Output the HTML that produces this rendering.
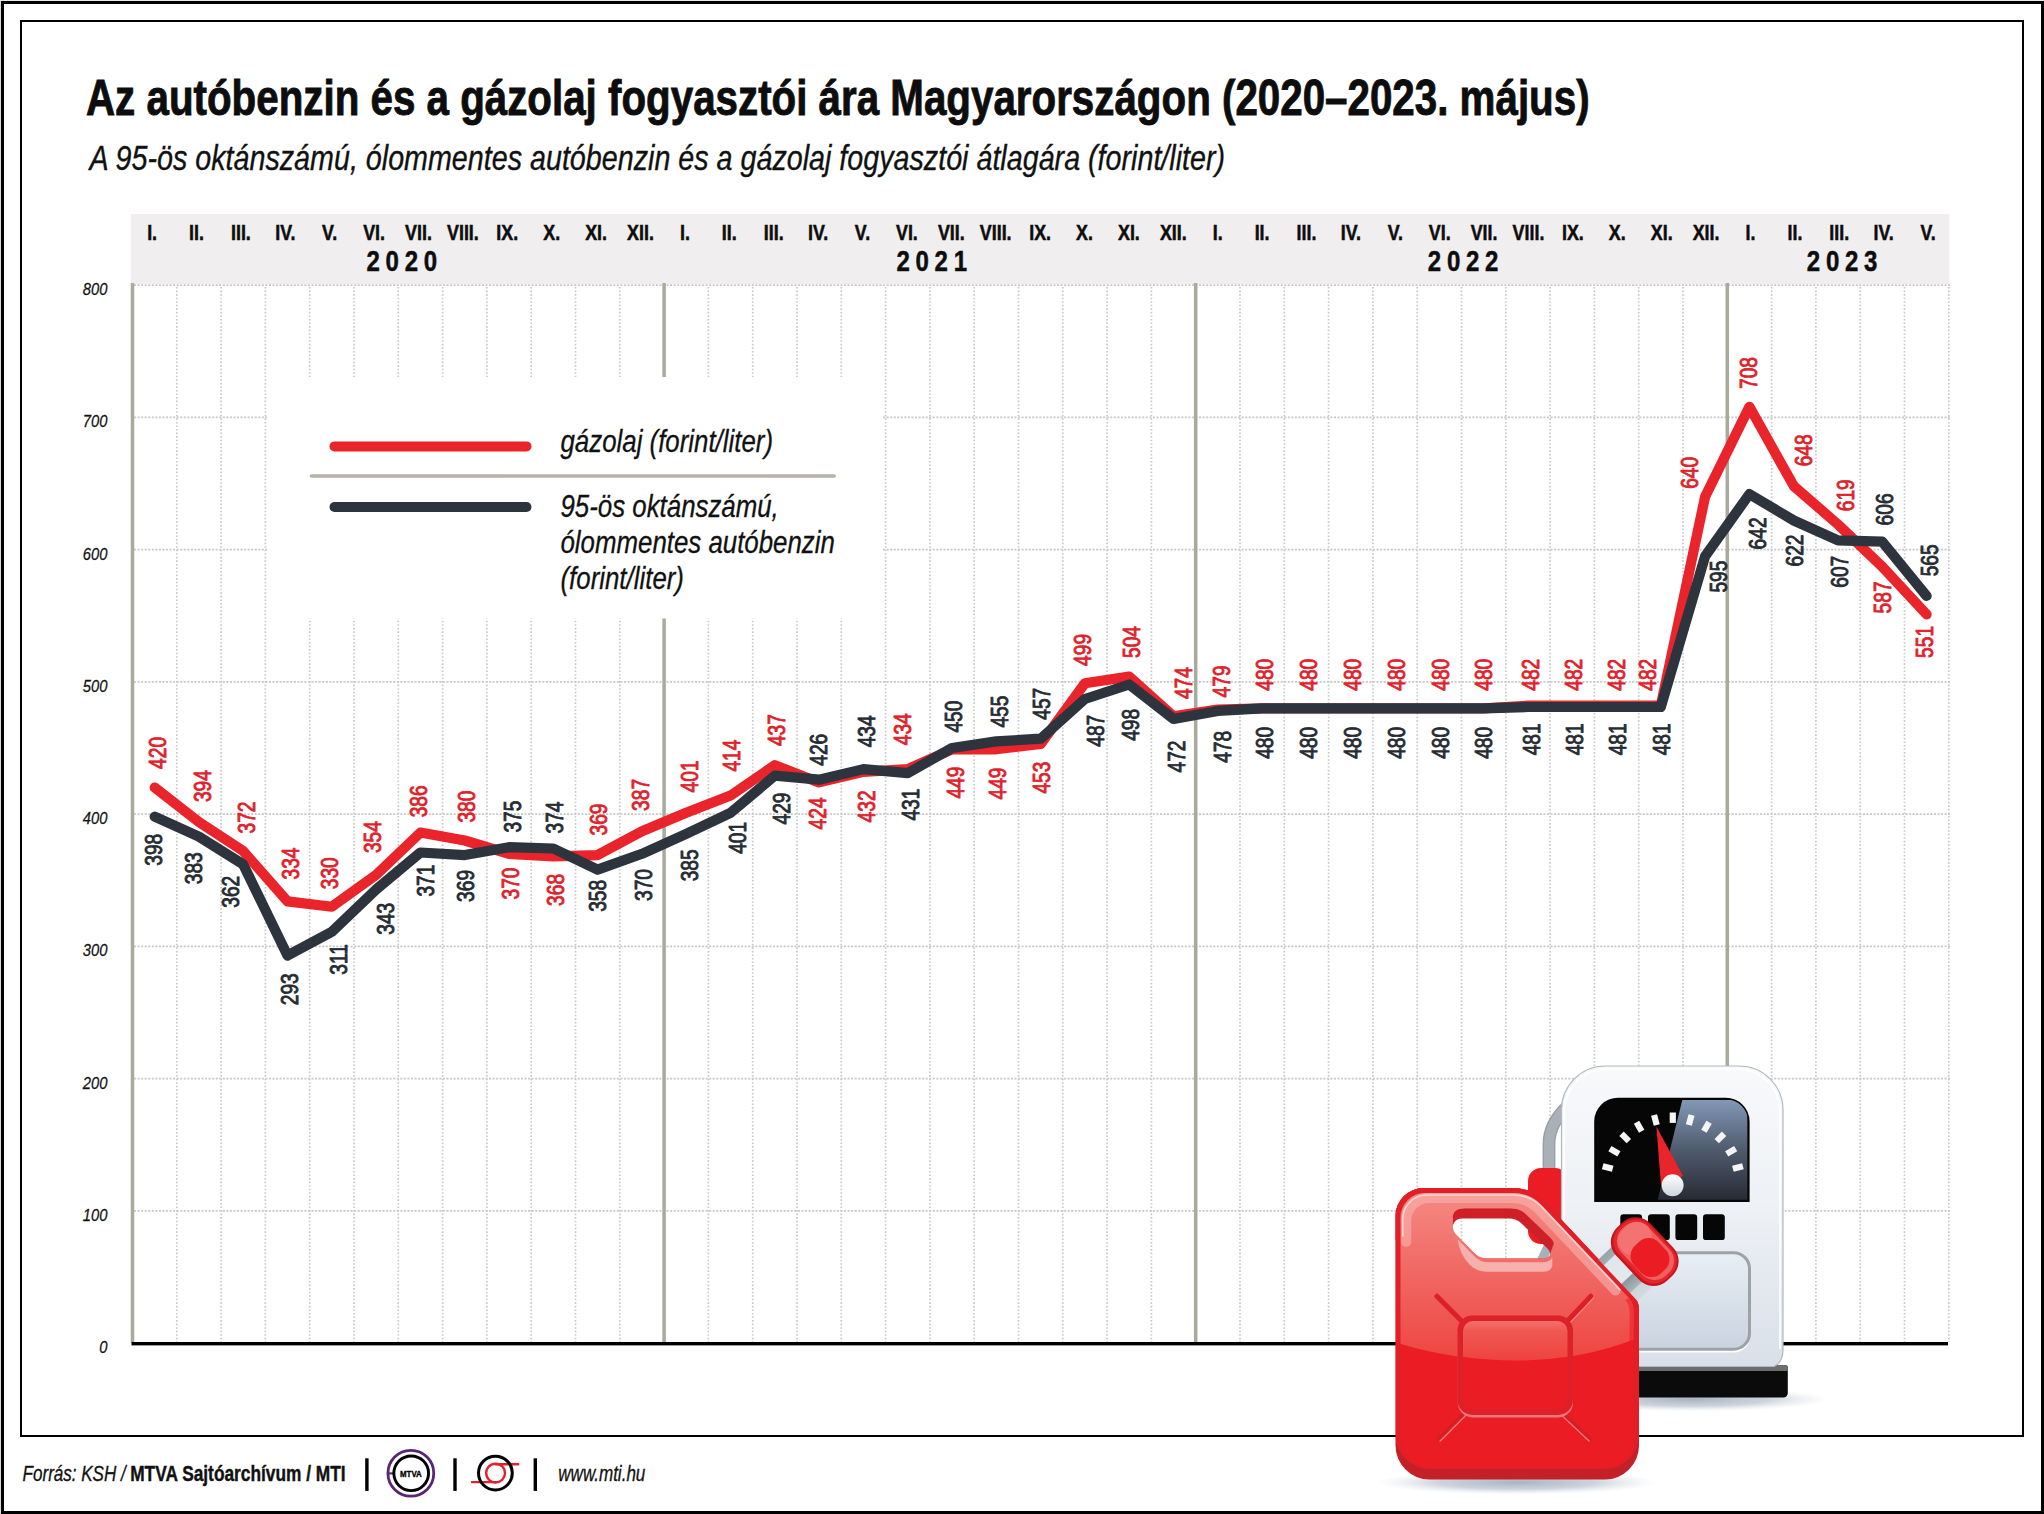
<!DOCTYPE html>
<html lang="hu"><head><meta charset="utf-8"><title>Az autóbenzin és a gázolaj fogyasztói ára Magyarországon</title>
<style>
html,body{margin:0;padding:0;background:#fff;}
body{width:2044px;height:1514px;overflow:hidden;}
svg{display:block;font-family:"Liberation Sans",sans-serif;}
</style></head><body>
<svg width="2044" height="1514" viewBox="0 0 2044 1514">
<defs>
<linearGradient id="gBody" x1="0" y1="0" x2="0" y2="1"><stop offset="0" stop-color="#f8f9fb"/><stop offset="0.45" stop-color="#eef1f5"/><stop offset="1" stop-color="#d9e0e9"/></linearGradient>
<linearGradient id="gScr" x1="0" y1="0" x2="0" y2="1"><stop offset="0" stop-color="#8298b6"/><stop offset="0.5" stop-color="#4f5b6d"/><stop offset="1" stop-color="#272b34"/></linearGradient>
<linearGradient id="gPanel" x1="0" y1="0" x2="0" y2="1"><stop offset="0" stop-color="#e8eef5"/><stop offset="1" stop-color="#c9d3df"/></linearGradient>
<linearGradient id="gKnob" x1="0" y1="0" x2="0" y2="1"><stop offset="0" stop-color="#ffffff"/><stop offset="1" stop-color="#cfd6df"/></linearGradient>
<linearGradient id="gHose" x1="0" y1="0" x2="0" y2="1"><stop offset="0" stop-color="#b4b9c0"/><stop offset="1" stop-color="#8f959d"/></linearGradient>
<radialGradient id="gSh1" cx="0.5" cy="0.5" r="0.5"><stop offset="0" stop-color="#a9b4c1"/><stop offset="0.55" stop-color="#c3cbd5" stop-opacity="0.85"/><stop offset="1" stop-color="#dfe4ea" stop-opacity="0"/></radialGradient>
<linearGradient id="gFace" gradientUnits="userSpaceOnUse" x1="0" y1="1192" x2="0" y2="1365"><stop offset="0" stop-color="#f58a85"/><stop offset="0.35" stop-color="#f1706b"/><stop offset="1" stop-color="#ee4340"/></linearGradient>
<linearGradient id="gSq" gradientUnits="userSpaceOnUse" x1="0" y1="1320" x2="0" y2="1365"><stop offset="0" stop-color="#f4726e"/><stop offset="0.25" stop-color="#f05753"/><stop offset="1" stop-color="#ee403d"/></linearGradient>
<linearGradient id="gTube" gradientUnits="userSpaceOnUse" x1="-28.5" y1="0" x2="28.5" y2="0"><stop offset="0" stop-color="#98a2a9"/><stop offset="0.13" stop-color="#a2acb3"/><stop offset="0.15" stop-color="#dfe6eb"/><stop offset="0.58" stop-color="#e3e9ee"/><stop offset="0.6" stop-color="#8a959c"/><stop offset="0.8" stop-color="#a9b3ba"/><stop offset="0.82" stop-color="#ccd5dc"/><stop offset="1" stop-color="#d3dbe1"/></linearGradient>
<clipPath id="cScr"><path d="M1595 1201.2V1121.5a23 23 0 0 1 23 -23H1725.8a23 23 0 0 1 23 23V1201.2Z"/></clipPath>
<mask id="mHole" maskUnits="userSpaceOnUse" x="1370" y="1170" width="300" height="330"><rect x="1370" y="1170" width="300" height="330" fill="#fff"/><path d="M1462 1218.6H1509Q1516.5 1218.6 1521.5 1223.5L1546.5 1247.5Q1552.5 1253.5 1548.5 1256.8Q1546.8 1258.3 1543 1258.3H1486Q1479.5 1258.3 1474.8 1253.6L1455.5 1234Q1450.8 1228 1454.2 1222.5Q1456.8 1218.6 1462 1218.6Z" fill="#000"/></mask>
<clipPath id="cFace"><path d="M1400.5 1217.5A24.5 24.5 0 0 1 1425 1193H1513Q1529.8 1193 1540.8 1204.6L1628.7 1297.7Q1633.5 1302.8 1633.5 1310V1437A31 31 0 0 1 1602.5 1468H1431.5A31 31 0 0 1 1400.5 1437Z"/></clipPath>
<clipPath id="cBody"><path d="M1395.5 1216A28 28 0 0 1 1423.5 1188H1513Q1531.5 1188 1544.2 1201.6L1634.2 1296.8Q1639 1301.9 1639 1309V1445.5A34 34 0 0 1 1605 1479.5H1429.5A34 34 0 0 1 1395.5 1445.5Z"/></clipPath>
</defs>
<rect width="2044" height="1514" fill="#fff"/>
<rect x="2.5" y="2.5" width="2040" height="1510" fill="none" stroke="#000" stroke-width="3"/>
<rect x="0" y="0" width="1" height="1514" fill="#d8d8d8"/><rect x="0" y="0" width="2044" height="1" fill="#e8e8e8"/>
<rect x="21" y="21" width="2002" height="1415" fill="none" stroke="#000" stroke-width="2"/>
<text transform="translate(86.00 115.00) scale(0.8068 1)" font-size="50" font-weight="bold" fill="#0d0d0d" stroke="#0d0d0d" stroke-width="0.9">Az autóbenzin és a gázolaj fogyasztói ára Magyarországon (2020–2023. május)</text>
<text transform="translate(89.50 169.60) scale(0.8247 1)" font-size="34.8" font-style="italic" fill="#111" stroke="#111" stroke-width="0.35">A 95-ös oktánszámú, ólommentes autóbenzin és a gázolaj fogyasztói átlagára (forint/liter)</text>
<rect x="131" y="214" width="1818.5" height="70" fill="#f0eeef"/>
<g font-weight="bold" text-anchor="middle" fill="#0d0d0d" stroke="#0d0d0d" stroke-width="0.5">
<text transform="translate(152.10 239.80) scale(0.8400 1)" font-size="21.3">I.</text>
<text transform="translate(196.50 239.80) scale(0.8400 1)" font-size="21.3">II.</text>
<text transform="translate(240.90 239.80) scale(0.8400 1)" font-size="21.3">III.</text>
<text transform="translate(285.30 239.80) scale(0.8400 1)" font-size="21.3">IV.</text>
<text transform="translate(329.70 239.80) scale(0.8400 1)" font-size="21.3">V.</text>
<text transform="translate(374.10 239.80) scale(0.8400 1)" font-size="21.3">VI.</text>
<text transform="translate(418.50 239.80) scale(0.8400 1)" font-size="21.3">VII.</text>
<text transform="translate(462.90 239.80) scale(0.8400 1)" font-size="21.3">VIII.</text>
<text transform="translate(507.30 239.80) scale(0.8400 1)" font-size="21.3">IX.</text>
<text transform="translate(551.70 239.80) scale(0.8400 1)" font-size="21.3">X.</text>
<text transform="translate(596.10 239.80) scale(0.8400 1)" font-size="21.3">XI.</text>
<text transform="translate(640.50 239.80) scale(0.8400 1)" font-size="21.3">XII.</text>
<text transform="translate(684.90 239.80) scale(0.8400 1)" font-size="21.3">I.</text>
<text transform="translate(729.30 239.80) scale(0.8400 1)" font-size="21.3">II.</text>
<text transform="translate(773.70 239.80) scale(0.8400 1)" font-size="21.3">III.</text>
<text transform="translate(818.10 239.80) scale(0.8400 1)" font-size="21.3">IV.</text>
<text transform="translate(862.50 239.80) scale(0.8400 1)" font-size="21.3">V.</text>
<text transform="translate(906.90 239.80) scale(0.8400 1)" font-size="21.3">VI.</text>
<text transform="translate(951.30 239.80) scale(0.8400 1)" font-size="21.3">VII.</text>
<text transform="translate(995.70 239.80) scale(0.8400 1)" font-size="21.3">VIII.</text>
<text transform="translate(1040.10 239.80) scale(0.8400 1)" font-size="21.3">IX.</text>
<text transform="translate(1084.50 239.80) scale(0.8400 1)" font-size="21.3">X.</text>
<text transform="translate(1128.90 239.80) scale(0.8400 1)" font-size="21.3">XI.</text>
<text transform="translate(1173.30 239.80) scale(0.8400 1)" font-size="21.3">XII.</text>
<text transform="translate(1217.70 239.80) scale(0.8400 1)" font-size="21.3">I.</text>
<text transform="translate(1262.10 239.80) scale(0.8400 1)" font-size="21.3">II.</text>
<text transform="translate(1306.50 239.80) scale(0.8400 1)" font-size="21.3">III.</text>
<text transform="translate(1350.90 239.80) scale(0.8400 1)" font-size="21.3">IV.</text>
<text transform="translate(1395.30 239.80) scale(0.8400 1)" font-size="21.3">V.</text>
<text transform="translate(1439.70 239.80) scale(0.8400 1)" font-size="21.3">VI.</text>
<text transform="translate(1484.10 239.80) scale(0.8400 1)" font-size="21.3">VII.</text>
<text transform="translate(1528.50 239.80) scale(0.8400 1)" font-size="21.3">VIII.</text>
<text transform="translate(1572.90 239.80) scale(0.8400 1)" font-size="21.3">IX.</text>
<text transform="translate(1617.30 239.80) scale(0.8400 1)" font-size="21.3">X.</text>
<text transform="translate(1661.70 239.80) scale(0.8400 1)" font-size="21.3">XI.</text>
<text transform="translate(1706.10 239.80) scale(0.8400 1)" font-size="21.3">XII.</text>
<text transform="translate(1750.50 239.80) scale(0.8400 1)" font-size="21.3">I.</text>
<text transform="translate(1794.90 239.80) scale(0.8400 1)" font-size="21.3">II.</text>
<text transform="translate(1839.30 239.80) scale(0.8400 1)" font-size="21.3">III.</text>
<text transform="translate(1883.70 239.80) scale(0.8400 1)" font-size="21.3">IV.</text>
<text transform="translate(1928.10 239.80) scale(0.8400 1)" font-size="21.3">V.</text>
</g>
<g font-weight="bold" text-anchor="middle" fill="#0d0d0d" letter-spacing="7.2" stroke="#0d0d0d" stroke-width="0.5">
<text transform="translate(404.70 270.90) scale(0.8000 1)" font-size="30">2020</text>
<text transform="translate(934.60 270.90) scale(0.8000 1)" font-size="30">2021</text>
<text transform="translate(1466.00 270.90) scale(0.8000 1)" font-size="30">2022</text>
<text transform="translate(1845.00 270.90) scale(0.8000 1)" font-size="30">2023</text>
</g>
<g stroke="#c9c9c9" stroke-width="1.7" stroke-dasharray="1.6 1.95" fill="none">
<path d="M134 1210.8H1950" stroke-dasharray="2.1 1.45"/>
<path d="M134 1078.6H1950" stroke-dasharray="2.1 1.45"/>
<path d="M134 946.3H1950" stroke-dasharray="2.1 1.45"/>
<path d="M134 814.1H1950" stroke-dasharray="2.1 1.45"/>
<path d="M134 681.8H1950" stroke-dasharray="2.1 1.45"/>
<path d="M134 549.6H1950" stroke-dasharray="2.1 1.45"/>
<path d="M134 417.3H1950" stroke-dasharray="2.1 1.45"/>
<path d="M134 285.1H1950" stroke-dasharray="2.1 1.45"/>
<path d="M176.8 287V1342"/>
<path d="M221.1 287V1342"/>
<path d="M265.4 287V1342"/>
<path d="M309.7 287V1342"/>
<path d="M354.0 287V1342"/>
<path d="M398.3 287V1342"/>
<path d="M442.6 287V1342"/>
<path d="M486.9 287V1342"/>
<path d="M531.2 287V1342"/>
<path d="M575.5 287V1342"/>
<path d="M619.8 287V1342"/>
<path d="M708.4 287V1342"/>
<path d="M752.7 287V1342"/>
<path d="M797.0 287V1342"/>
<path d="M841.3 287V1342"/>
<path d="M885.6 287V1342"/>
<path d="M929.9 287V1342"/>
<path d="M974.2 287V1342"/>
<path d="M1018.5 287V1342"/>
<path d="M1062.8 287V1342"/>
<path d="M1107.1 287V1342"/>
<path d="M1151.4 287V1342"/>
<path d="M1240.0 287V1342"/>
<path d="M1284.3 287V1342"/>
<path d="M1328.6 287V1342"/>
<path d="M1372.9 287V1342"/>
<path d="M1417.2 287V1342"/>
<path d="M1461.5 287V1342"/>
<path d="M1505.8 287V1342"/>
<path d="M1550.1 287V1342"/>
<path d="M1594.4 287V1342"/>
<path d="M1638.7 287V1342"/>
<path d="M1683.0 287V1342"/>
<path d="M1771.6 287V1342"/>
<path d="M1815.9 287V1342"/>
<path d="M1860.2 287V1342"/>
<path d="M1904.5 287V1342"/>
<path d="M1948.8 287V1342"/>
</g>
<g stroke="#a9a99d" stroke-width="3.5">
<path d="M132.5 283V1343"/>
<path d="M664.1 283V1343"/>
<path d="M1195.7 283V1343"/>
<path d="M1727.3 283V1343"/>
</g>
<rect x="267" y="377" width="616" height="241.5" fill="#fff"/>
<path d="M334.5 446.4H526.5" stroke="#e9242b" stroke-width="10" stroke-linecap="round"/>
<path d="M334.5 507H526.5" stroke="#2e343e" stroke-width="10" stroke-linecap="round"/>
<path d="M311.5 476H834" stroke="#b4b3a6" stroke-width="3.7" stroke-linecap="round"/>
<g font-style="italic" fill="#111" stroke="#111" stroke-width="0.3">
<text transform="translate(560.50 452.20) scale(0.8260 1)" font-size="31.3">gázolaj (forint/liter)</text>
<text transform="translate(560.50 517.20) scale(0.8260 1)" font-size="31.3">95-ös oktánszámú,</text>
<text transform="translate(560.50 553.20) scale(0.8260 1)" font-size="31.3">ólommentes autóbenzin</text>
<text transform="translate(560.50 589.30) scale(0.8260 1)" font-size="31.3">(forint/liter)</text>
</g>
<g font-style="italic" text-anchor="end" fill="#111" stroke="#111" stroke-width="0.25">
<text transform="translate(107.50 1353.10) scale(0.8600 1)" font-size="17.2">0</text>
<text transform="translate(107.50 1220.85) scale(0.8600 1)" font-size="17.2">100</text>
<text transform="translate(107.50 1088.60) scale(0.8600 1)" font-size="17.2">200</text>
<text transform="translate(107.50 956.35) scale(0.8600 1)" font-size="17.2">300</text>
<text transform="translate(107.50 824.10) scale(0.8600 1)" font-size="17.2">400</text>
<text transform="translate(107.50 691.85) scale(0.8600 1)" font-size="17.2">500</text>
<text transform="translate(107.50 559.60) scale(0.8600 1)" font-size="17.2">600</text>
<text transform="translate(107.50 427.35) scale(0.8600 1)" font-size="17.2">700</text>
<text transform="translate(107.50 295.10) scale(0.8600 1)" font-size="17.2">800</text>
</g>
<rect x="131.5" y="1342" width="1816.5" height="3.4" fill="#000"/>
<path d="M154.7 787.6 L198.9 822.0 L243.2 851.1 L287.5 901.4 L331.9 906.7 L376.1 874.9 L420.4 832.6 L464.8 840.5 L509.0 853.8 L553.3 856.4 L597.6 855.1 L642.0 831.3 L686.2 812.8 L730.5 795.6 L774.8 765.2 L819.1 782.4 L863.4 771.8 L907.8 769.1 L952.0 749.3 L996.3 749.3 L1040.7 744.0 L1084.9 683.2 L1129.2 676.6 L1173.5 716.2 L1217.8 709.6 L1262.1 708.3 L1306.4 708.3 L1350.8 708.3 L1395.0 708.3 L1439.3 708.3 L1483.6 708.3 L1527.9 705.7 L1572.2 705.7 L1616.5 705.7 L1660.8 705.7 L1705.1 496.7 L1749.4 406.8 L1793.8 486.1 L1838.0 524.5 L1882.3 566.8 L1926.6 614.4" fill="none" stroke="#e9242b" stroke-width="10.2" stroke-linecap="round" stroke-linejoin="round"/>
<path d="M154.7 816.7 L198.9 836.6 L243.2 864.4 L287.5 955.6 L331.9 931.8 L376.1 889.5 L420.4 852.5 L464.8 855.1 L509.0 847.2 L553.3 848.5 L597.6 869.6 L642.0 853.8 L686.2 833.9 L730.5 812.8 L774.8 775.7 L819.1 779.7 L863.4 769.1 L907.8 773.1 L952.0 748.0 L996.3 741.4 L1040.7 738.7 L1084.9 699.0 L1129.2 684.5 L1173.5 718.9 L1217.8 710.9 L1262.1 708.3 L1306.4 708.3 L1350.8 708.3 L1395.0 708.3 L1439.3 708.3 L1483.6 708.3 L1527.9 707.0 L1572.2 707.0 L1616.5 707.0 L1660.8 707.0 L1705.1 556.2 L1749.4 494.1 L1793.8 520.5 L1838.0 540.3 L1882.3 541.7 L1926.6 595.9" fill="none" stroke="#2e343e" stroke-width="10.2" stroke-linecap="round" stroke-linejoin="round"/>
<g fill="#e0212b" stroke="#e0212b" stroke-width="0.9">
<text transform="translate(165.60 768.90) rotate(-90) scale(0.7890 1)" font-size="24.3">420</text>
<text transform="translate(211.10 802.10) rotate(-90) scale(0.7890 1)" font-size="24.3">394</text>
<text transform="translate(255.10 833.50) rotate(-90) scale(0.7890 1)" font-size="24.3">372</text>
<text transform="translate(299.20 879.50) rotate(-90) scale(0.7890 1)" font-size="24.3">334</text>
<text transform="translate(338.00 889.20) rotate(-90) scale(0.7890 1)" font-size="24.3">330</text>
<text transform="translate(380.60 853.10) rotate(-90) scale(0.7890 1)" font-size="24.3">354</text>
<text transform="translate(427.40 817.30) rotate(-90) scale(0.7890 1)" font-size="24.3">386</text>
<text transform="translate(474.70 822.60) rotate(-90) scale(0.7890 1)" font-size="24.3">380</text>
<text transform="translate(518.80 899.50) rotate(-90) scale(0.7890 1)" font-size="24.3">370</text>
<text transform="translate(564.30 905.90) rotate(-90) scale(0.7890 1)" font-size="24.3">368</text>
<text transform="translate(606.60 835.50) rotate(-90) scale(0.7890 1)" font-size="24.3">369</text>
<text transform="translate(649.10 810.90) rotate(-90) scale(0.7890 1)" font-size="24.3">387</text>
<text transform="translate(698.40 792.40) rotate(-90) scale(0.7890 1)" font-size="24.3">401</text>
<text transform="translate(739.50 771.60) rotate(-90) scale(0.7890 1)" font-size="24.3">414</text>
<text transform="translate(784.80 746.10) rotate(-90) scale(0.7890 1)" font-size="24.3">437</text>
<text transform="translate(826.40 829.40) rotate(-90) scale(0.7890 1)" font-size="24.3">424</text>
<text transform="translate(875.40 822.40) rotate(-90) scale(0.7890 1)" font-size="24.3">432</text>
<text transform="translate(910.90 745.20) rotate(-90) scale(0.7890 1)" font-size="24.3">434</text>
<text transform="translate(964.30 798.60) rotate(-90) scale(0.7890 1)" font-size="24.3">449</text>
<text transform="translate(1005.80 799.50) rotate(-90) scale(0.7890 1)" font-size="24.3">449</text>
<text transform="translate(1050.30 793.60) rotate(-90) scale(0.7890 1)" font-size="24.3">453</text>
<text transform="translate(1091.40 665.90) rotate(-90) scale(0.7890 1)" font-size="24.3">499</text>
<text transform="translate(1139.60 658.00) rotate(-90) scale(0.7890 1)" font-size="24.3">504</text>
<text transform="translate(1191.80 699.10) rotate(-90) scale(0.7890 1)" font-size="24.3">474</text>
<text transform="translate(1230.00 697.40) rotate(-90) scale(0.7890 1)" font-size="24.3">479</text>
<text transform="translate(1273.10 690.70) rotate(-90) scale(0.7890 1)" font-size="24.3">480</text>
<text transform="translate(1317.40 690.70) rotate(-90) scale(0.7890 1)" font-size="24.3">480</text>
<text transform="translate(1361.10 690.70) rotate(-90) scale(0.7890 1)" font-size="24.3">480</text>
<text transform="translate(1404.50 690.70) rotate(-90) scale(0.7890 1)" font-size="24.3">480</text>
<text transform="translate(1448.80 690.70) rotate(-90) scale(0.7890 1)" font-size="24.3">480</text>
<text transform="translate(1491.60 690.70) rotate(-90) scale(0.7890 1)" font-size="24.3">480</text>
<text transform="translate(1539.30 690.70) rotate(-90) scale(0.7890 1)" font-size="24.3">482</text>
<text transform="translate(1581.80 690.70) rotate(-90) scale(0.7890 1)" font-size="24.3">482</text>
<text transform="translate(1624.50 690.70) rotate(-90) scale(0.7890 1)" font-size="24.3">482</text>
<text transform="translate(1655.80 690.70) rotate(-90) scale(0.7890 1)" font-size="24.3">482</text>
<text transform="translate(1698.10 488.80) rotate(-90) scale(0.7890 1)" font-size="24.3">640</text>
<text transform="translate(1757.40 389.00) rotate(-90) scale(0.7890 1)" font-size="24.3">708</text>
<text transform="translate(1811.70 466.30) rotate(-90) scale(0.7890 1)" font-size="24.3">648</text>
<text transform="translate(1854.00 511.20) rotate(-90) scale(0.7890 1)" font-size="24.3">619</text>
<text transform="translate(1891.30 613.40) rotate(-90) scale(0.7890 1)" font-size="24.3">587</text>
<text transform="translate(1932.60 657.90) rotate(-90) scale(0.7890 1)" font-size="24.3">551</text>
</g>
<g fill="#262b33" stroke="#262b33" stroke-width="0.9">
<text transform="translate(161.90 865.70) rotate(-90) scale(0.7890 1)" font-size="24.3">398</text>
<text transform="translate(202.30 884.20) rotate(-90) scale(0.7890 1)" font-size="24.3">383</text>
<text transform="translate(239.40 907.70) rotate(-90) scale(0.7890 1)" font-size="24.3">362</text>
<text transform="translate(297.70 1005.20) rotate(-90) scale(0.7890 1)" font-size="24.3">293</text>
<text transform="translate(346.60 974.70) rotate(-90) scale(0.7890 1)" font-size="24.3">311</text>
<text transform="translate(394.00 934.70) rotate(-90) scale(0.7890 1)" font-size="24.3">343</text>
<text transform="translate(434.20 896.60) rotate(-90) scale(0.7890 1)" font-size="24.3">371</text>
<text transform="translate(474.20 901.90) rotate(-90) scale(0.7890 1)" font-size="24.3">369</text>
<text transform="translate(520.80 832.60) rotate(-90) scale(0.7890 1)" font-size="24.3">375</text>
<text transform="translate(562.80 833.50) rotate(-90) scale(0.7890 1)" font-size="24.3">374</text>
<text transform="translate(606.00 911.80) rotate(-90) scale(0.7890 1)" font-size="24.3">358</text>
<text transform="translate(652.30 901.00) rotate(-90) scale(0.7890 1)" font-size="24.3">370</text>
<text transform="translate(698.40 881.30) rotate(-90) scale(0.7890 1)" font-size="24.3">385</text>
<text transform="translate(745.60 853.80) rotate(-90) scale(0.7890 1)" font-size="24.3">401</text>
<text transform="translate(789.70 824.50) rotate(-90) scale(0.7890 1)" font-size="24.3">429</text>
<text transform="translate(826.90 765.70) rotate(-90) scale(0.7890 1)" font-size="24.3">426</text>
<text transform="translate(874.80 747.30) rotate(-90) scale(0.7890 1)" font-size="24.3">434</text>
<text transform="translate(918.80 820.60) rotate(-90) scale(0.7890 1)" font-size="24.3">431</text>
<text transform="translate(962.00 732.60) rotate(-90) scale(0.7890 1)" font-size="24.3">450</text>
<text transform="translate(1007.80 727.60) rotate(-90) scale(0.7890 1)" font-size="24.3">455</text>
<text transform="translate(1049.60 719.70) rotate(-90) scale(0.7890 1)" font-size="24.3">457</text>
<text transform="translate(1103.80 746.70) rotate(-90) scale(0.7890 1)" font-size="24.3">487</text>
<text transform="translate(1139.00 740.80) rotate(-90) scale(0.7890 1)" font-size="24.3">498</text>
<text transform="translate(1185.10 772.50) rotate(-90) scale(0.7890 1)" font-size="24.3">472</text>
<text transform="translate(1231.40 762.80) rotate(-90) scale(0.7890 1)" font-size="24.3">478</text>
<text transform="translate(1273.10 758.80) rotate(-90) scale(0.7890 1)" font-size="24.3">480</text>
<text transform="translate(1317.40 758.80) rotate(-90) scale(0.7890 1)" font-size="24.3">480</text>
<text transform="translate(1361.10 758.80) rotate(-90) scale(0.7890 1)" font-size="24.3">480</text>
<text transform="translate(1404.50 758.80) rotate(-90) scale(0.7890 1)" font-size="24.3">480</text>
<text transform="translate(1448.80 758.80) rotate(-90) scale(0.7890 1)" font-size="24.3">480</text>
<text transform="translate(1491.60 758.80) rotate(-90) scale(0.7890 1)" font-size="24.3">480</text>
<text transform="translate(1540.10 755.30) rotate(-90) scale(0.7890 1)" font-size="24.3">481</text>
<text transform="translate(1582.70 755.30) rotate(-90) scale(0.7890 1)" font-size="24.3">481</text>
<text transform="translate(1625.90 755.30) rotate(-90) scale(0.7890 1)" font-size="24.3">481</text>
<text transform="translate(1669.80 755.30) rotate(-90) scale(0.7890 1)" font-size="24.3">481</text>
<text transform="translate(1727.10 592.60) rotate(-90) scale(0.7890 1)" font-size="24.3">595</text>
<text transform="translate(1766.40 549.40) rotate(-90) scale(0.7890 1)" font-size="24.3">642</text>
<text transform="translate(1802.70 566.50) rotate(-90) scale(0.7890 1)" font-size="24.3">622</text>
<text transform="translate(1848.00 587.70) rotate(-90) scale(0.7890 1)" font-size="24.3">607</text>
<text transform="translate(1893.30 525.40) rotate(-90) scale(0.7890 1)" font-size="24.3">606</text>
<text transform="translate(1937.60 576.30) rotate(-90) scale(0.7890 1)" font-size="24.3">565</text>
</g>
<g id="pump">
<ellipse cx="1690" cy="1399.5" rx="140" ry="12" fill="url(#gSh1)"/>
<path d="M1568 1106C1556 1117 1549 1130 1549 1144V1180" fill="none" stroke="#979da5" stroke-width="12.8"/>
<path d="M1568 1106C1556 1117 1549 1130 1549 1144V1180" fill="none" stroke="#aab0b7" stroke-width="10"/>
<path d="M1552 1238L1537 1270" fill="none" stroke="#a7b0b8" stroke-width="9"/>
<rect x="1528" y="1168" width="40" height="76" rx="13" fill="#ec1c24"/>
<path d="M1557 1365H1785.5Q1787.8 1365 1787.8 1367.5V1393a4.5 4.5 0 0 1 -4.5 4.5H1557Z" fill="#0b0b0b"/>
<path d="M1557 1365H1785.5Q1787.8 1365 1787.8 1367.5V1371H1557Z" fill="#6d6e6e"/>
<path d="M1561.5 1366.5V1110a44 44 0 0 1 44 -44H1739a44 44 0 0 1 44 44V1350Q1783 1362 1774 1366.5Z" fill="url(#gBody)" stroke="#b2b9c1" stroke-width="1.2"/>
<path d="M1564.2 1364V1111a42 42 0 0 1 42 -42H1738a42 42 0 0 1 42 42V1349" fill="none" stroke="#ffffff" stroke-width="2" opacity="0.8"/>
<path d="M1595 1201.2V1121.5a23 23 0 0 1 23 -23H1725.8a23 23 0 0 1 23 23V1201.2Z" fill="#060606"/>
<g clip-path="url(#cScr)"><path d="M1682.3 1100H1747.3V1199.7H1657.7Z" fill="url(#gScr)"/></g>
<path d="M1595 1201.2V1121.5a23 23 0 0 1 23 -23H1725.8a23 23 0 0 1 23 23V1201.2Z" fill="none" stroke="#060606" stroke-width="1.6"/>
<g fill="#f5f5f5">
<rect x="-3.1" y="-5.2" width="6.2" height="10.4" transform="translate(1737.9 1167.5) rotate(74.8)"/>
<rect x="-3.1" y="-5.2" width="6.2" height="10.4" transform="translate(1731.2 1151.3) rotate(59.8)"/>
<rect x="-3.1" y="-5.2" width="6.2" height="10.4" transform="translate(1720.4 1137.4) rotate(44.9)"/>
<rect x="-3.1" y="-5.2" width="6.2" height="10.4" transform="translate(1706.5 1126.7) rotate(29.9)"/>
<rect x="-3.1" y="-5.2" width="6.2" height="10.4" transform="translate(1690.2 1120.0) rotate(15.0)"/>
<rect x="-3.1" y="-5.2" width="6.2" height="10.4" transform="translate(1672.8 1117.7) rotate(-0.0)"/>
<rect x="-3.1" y="-5.2" width="6.2" height="10.4" transform="translate(1655.4 1120.0) rotate(-15.0)"/>
<rect x="-3.1" y="-5.2" width="6.2" height="10.4" transform="translate(1639.1 1126.7) rotate(-29.9)"/>
<rect x="-3.1" y="-5.2" width="6.2" height="10.4" transform="translate(1625.2 1137.4) rotate(-44.9)"/>
<rect x="-3.1" y="-5.2" width="6.2" height="10.4" transform="translate(1614.4 1151.3) rotate(-59.8)"/>
<rect x="-3.1" y="-5.2" width="6.2" height="10.4" transform="translate(1607.7 1167.5) rotate(-74.8)"/>
</g>
<path d="M1656.4 1126.5L1683 1176L1661 1185Z" fill="#e9242b"/>
<circle cx="1672.6" cy="1185.2" r="11" fill="url(#gKnob)"/>
<g fill="#060606">
<rect x="1620.3" y="1214.3" width="21.8" height="25.8" rx="3.2"/>
<rect x="1648.0" y="1214.3" width="21.8" height="25.8" rx="3.2"/>
<rect x="1675.4" y="1214.3" width="21.8" height="25.8" rx="3.2"/>
<rect x="1703.0" y="1214.3" width="21.8" height="25.8" rx="3.2"/>
</g>
<rect x="1612" y="1254.5" width="138" height="98" rx="16" fill="#ffffff"/>
<rect x="1612" y="1252.7" width="137.5" height="96.5" rx="16" fill="url(#gPanel)" stroke="#9da2a7" stroke-width="3"/>
</g>
<ellipse cx="1517" cy="1482.5" rx="141" ry="12" fill="url(#gSh1)"/>
<g id="can" mask="url(#mHole)">
<path d="M1395.5 1216A28 28 0 0 1 1423.5 1188H1513Q1531.5 1188 1544.2 1201.6L1634.2 1296.8Q1639 1301.9 1639 1309V1445.5A34 34 0 0 1 1605 1479.5H1429.5A34 34 0 0 1 1395.5 1445.5Z" fill="#c32027"/>
<g clip-path="url(#cBody)"><path d="M1395.5 1216A28 28 0 0 1 1423.5 1188H1513Q1531.5 1188 1544.2 1201.6L1634.2 1296.8Q1639 1301.9 1639 1309V1445.5A34 34 0 0 1 1605 1479.5H1429.5A34 34 0 0 1 1395.5 1445.5Z" fill="#e21f26" transform="translate(0 -10.5)"/><rect x="1390" y="1180" width="260" height="60" fill="#e21f26"/></g>
<path d="M1400.5 1217.5A24.5 24.5 0 0 1 1425 1193H1513Q1529.8 1193 1540.8 1204.6L1628.7 1297.7Q1633.5 1302.8 1633.5 1310V1437A31 31 0 0 1 1602.5 1468H1431.5A31 31 0 0 1 1400.5 1437Z" fill="#ec1c24"/>
<g clip-path="url(#cFace)">
<path d="M1390 1180H1645V1335Q1585 1360.5 1517 1360.5Q1450 1360.5 1390 1340.5Z" fill="url(#gFace)"/>
</g>
<path d="M1628.7 1297.7Q1633.5 1302.8 1633.5 1310V1437A31 31 0 0 1 1602.5 1468H1600A31 31 0 0 0 1629.5 1437V1312Q1629.5 1304.5 1625.5 1300Z" fill="#ec1c24" opacity="0.55"/>
<path d="M1406.2 1242V1223A23 23 0 0 1 1429.2 1198.0H1511.5Q1527.8 1198.0 1538.0 1208.6L1615.5 1290.6" fill="none" stroke="#f9b3af" stroke-width="10" stroke-linecap="round" opacity="0.6"/>
<path d="M1402.8 1236V1220A24 24 0 0 1 1426.8 1195.0H1513Q1530.3 1195.0 1541 1206.3L1620 1289.9" fill="none" stroke="#fdd9d6" stroke-width="1.6" stroke-linecap="round" opacity="0.9"/>
<g fill="#cf2027">
<path d="M1462 1218.6H1509Q1516.5 1218.6 1521.5 1223.5L1546.5 1247.5Q1552.5 1253.5 1548.5 1256.8Q1546.8 1258.3 1543 1258.3H1486Q1479.5 1258.3 1474.8 1253.6L1455.5 1234Q1450.8 1228 1454.2 1222.5Q1456.8 1218.6 1462 1218.6Z" transform="translate(0 0)"/>
<path d="M1462 1218.6H1509Q1516.5 1218.6 1521.5 1223.5L1546.5 1247.5Q1552.5 1253.5 1548.5 1256.8Q1546.8 1258.3 1543 1258.3H1486Q1479.5 1258.3 1474.8 1253.6L1455.5 1234Q1450.8 1228 1454.2 1222.5Q1456.8 1218.6 1462 1218.6Z" transform="translate(0 -3.3)"/>
<path d="M1462 1218.6H1509Q1516.5 1218.6 1521.5 1223.5L1546.5 1247.5Q1552.5 1253.5 1548.5 1256.8Q1546.8 1258.3 1543 1258.3H1486Q1479.5 1258.3 1474.8 1253.6L1455.5 1234Q1450.8 1228 1454.2 1222.5Q1456.8 1218.6 1462 1218.6Z" transform="translate(0 -6.6)"/>
<path d="M1462 1218.6H1509Q1516.5 1218.6 1521.5 1223.5L1546.5 1247.5Q1552.5 1253.5 1548.5 1256.8Q1546.8 1258.3 1543 1258.3H1486Q1479.5 1258.3 1474.8 1253.6L1455.5 1234Q1450.8 1228 1454.2 1222.5Q1456.8 1218.6 1462 1218.6Z" transform="translate(0 -9.9)"/>
<path d="M1462 1218.6H1509Q1516.5 1218.6 1521.5 1223.5L1546.5 1247.5Q1552.5 1253.5 1548.5 1256.8Q1546.8 1258.3 1543 1258.3H1486Q1479.5 1258.3 1474.8 1253.6L1455.5 1234Q1450.8 1228 1454.2 1222.5Q1456.8 1218.6 1462 1218.6Z" transform="translate(1.2 -3.3)"/>
<path d="M1462 1218.6H1509Q1516.5 1218.6 1521.5 1223.5L1546.5 1247.5Q1552.5 1253.5 1548.5 1256.8Q1546.8 1258.3 1543 1258.3H1486Q1479.5 1258.3 1474.8 1253.6L1455.5 1234Q1450.8 1228 1454.2 1222.5Q1456.8 1218.6 1462 1218.6Z" transform="translate(2.4 -6.6)"/>
<path d="M1462 1218.6H1509Q1516.5 1218.6 1521.5 1223.5L1546.5 1247.5Q1552.5 1253.5 1548.5 1256.8Q1546.8 1258.3 1543 1258.3H1486Q1479.5 1258.3 1474.8 1253.6L1455.5 1234Q1450.8 1228 1454.2 1222.5Q1456.8 1218.6 1462 1218.6Z" transform="translate(3.6 -9.9)"/>
<path d="M1462 1218.6H1509Q1516.5 1218.6 1521.5 1223.5L1546.5 1247.5Q1552.5 1253.5 1548.5 1256.8Q1546.8 1258.3 1543 1258.3H1486Q1479.5 1258.3 1474.8 1253.6L1455.5 1234Q1450.8 1228 1454.2 1222.5Q1456.8 1218.6 1462 1218.6Z" transform="translate(1.8 -9.9)"/>
</g>
<path d="M1457.5 1239L1473.5 1255.5Q1480 1262.3 1488 1262.3H1543Q1549.5 1262.3 1552.3 1257.5V1266Q1550.5 1271.7 1544 1271.7H1487Q1476.5 1271.7 1469.5 1264.5Q1459.5 1254 1457.5 1239Z" fill="#f8b0ad"/>
<g fill="none" stroke-linecap="round">
<path d="M1438.4 1297.700L1463.3 1322.700M1592.2 1297.700L1568.6 1322.700" stroke="#f68f8b" stroke-width="3.2"/>
<path d="M1436.9 1296.2L1461.8 1321.2M1590.8 1296.2L1567.2 1321.2" stroke="#dd2028" stroke-width="5"/>
<path d="M1464.9 1415.4L1440 1440.3M1562.700 1415.4L1589.2 1440.3" stroke="#f6777a" stroke-width="2.6"/>
<path d="M1463.400 1414.4L1438.5 1439.3M1564.2 1414.4L1590.700 1439.3" stroke="#d31f26" stroke-width="3.4"/>
</g>
<rect x="1457.8" y="1319" width="115.2" height="98.500" rx="15" fill="#f6777a"/>
<rect x="1457.5" y="1315.5" width="115.5" height="99.5" rx="15" fill="#dc2129"/>
<rect x="1463" y="1321" width="104.5" height="88.5" rx="10" fill="#ec1c24"/>
<clipPath id="cSq"><rect x="1463" y="1321" width="104.5" height="88.5" rx="10"/></clipPath>
<g clip-path="url(#cSq)"><path d="M1390 1180H1645V1335Q1585 1360.5 1517 1360.5Q1450 1360.5 1390 1340.5Z" fill="url(#gSq)"/></g>
</g>
<g transform="translate(1619.4 1278.8) rotate(46.6)">
<rect x="-28.5" y="-22" width="57" height="24" fill="url(#gTube)"/>
</g>
<g transform="translate(1644.7 1251.6) rotate(46.5)">
<rect x="-36.5" y="-23.5" width="73" height="47" rx="20" fill="#c5161d"/>
<rect x="-34.7" y="-21.7" width="69.4" height="42.6" rx="18.5" fill="#e5242b"/>
<rect x="-32" y="-19.5" width="64" height="37" rx="16.5" fill="#f0605e"/>
<rect x="-31" y="-19.5" width="30" height="35" rx="15" fill="#f27371"/>
<rect x="-11" y="-16.5" width="38" height="33.5" rx="14" fill="#ec1c24"/>
</g>
<text transform="translate(22.60 1480.80) scale(0.8000 1)" font-size="21.3" font-style="italic" fill="#111" stroke="#111" stroke-width="0.3">Forrás: KSH /</text>
<text transform="translate(130.20 1480.80) scale(0.8130 1)" font-size="21.3" font-weight="bold" fill="#111" stroke="#111" stroke-width="0.4">MTVA Sajtóarchívum / MTI</text>
<g fill="#000"><rect x="365.2" y="1458.3" width="3.4" height="32.6"/><rect x="453.3" y="1458.3" width="3.4" height="32.6"/><rect x="533.6" y="1458.3" width="3.4" height="32.6"/></g>
<circle cx="410.85" cy="1473.3" r="22.9" fill="none" stroke="#5a2572" stroke-width="2.8"/>
<path d="M388 1473.4H394" stroke="#5a2572" stroke-width="2.1"/>
<circle cx="411.2" cy="1473.3" r="17.35" fill="#fff" stroke="#000" stroke-width="2.9"/>
<text transform="translate(410.90 1476.60) scale(0.8400 1)" font-size="9.4" font-weight="bold" text-anchor="middle" fill="#000" stroke="#000" stroke-width="0.35">MTVA</text>
<g fill="none" stroke="#e2202c" stroke-width="2.4"><circle cx="495.6" cy="1473.1" r="9.4"/><path d="M471.1 1482.1H496M495.2 1464.2H519.2"/></g>
<circle cx="495.4" cy="1473.1" r="16.9" fill="none" stroke="#000" stroke-width="3"/>
<text transform="translate(558.30 1480.80) scale(0.8000 1)" font-size="21.3" font-style="italic" fill="#111" stroke="#111" stroke-width="0.3">www.mti.hu</text>
</svg>
</body></html>
